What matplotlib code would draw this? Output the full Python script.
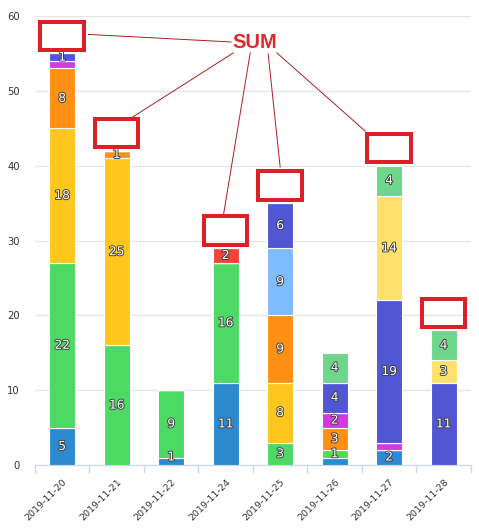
import numpy as np
import matplotlib.pyplot as plt
import matplotlib.patheffects as pe
from matplotlib.patches import Rectangle

dates = ['2019-11-20', '2019-11-21', '2019-11-22', '2019-11-24',
         '2019-11-25', '2019-11-26', '2019-11-27', '2019-11-28']

# stacked series, bottom to top
blue = [5, 0, 1, 11, 0, 1, 2, 0]
green = [22, 16, 9, 16, 3, 1, 0, 0]
yellow = [18, 25, 0, 0, 8, 0, 0, 0]
orange = [8, 1, 0, 0, 9, 3, 0, 0]
magenta = [1, 0, 0, 0, 0, 2, 1, 0]
light_blue = [0, 0, 0, 0, 9, 0, 0, 0]
red = [0, 0, 0, 2, 0, 0, 0, 0]
indigo = [1, 0, 0, 0, 6, 4, 19, 11]
light_yellow = [0, 0, 0, 0, 0, 0, 14, 3]
light_green = [0, 0, 0, 0, 0, 4, 4, 4]

series = [blue, green, yellow, orange, magenta, light_blue, red,
          indigo, light_yellow, light_green]
colors = ['#2d8ad1', '#4cd964', '#ffc61e', '#ff9014', '#d43ad8', '#7ebcff',
          '#f4433a', '#5156d4', '#fee16b', '#6dd68a']

# red boxes drawn over the chart and the "SUM" callout
boxed = [0, 1, 3, 4, 6, 7]
linked = [0, 1, 3, 4, 6]

fig = plt.figure(figsize=(4.79, 5.30), dpi=100)
ax = fig.add_axes([0.073, 0.1226, 0.910, 0.8472])

x = np.arange(len(dates))
bottom = np.zeros(len(dates))
labels = [[] for _ in dates]
for vals, col in zip(series, colors):
    vals = np.array(vals, dtype=float)
    ax.bar(x, vals, 0.48, bottom=bottom, color=col, edgecolor='white',
           linewidth=0.8, zorder=3)
    for i, v in enumerate(vals):
        if v > 0:
            labels[i].append((max(bottom[i] + v / 2, 1.07), v))
    bottom += vals
totals = bottom

# hide overlapping labels: keep bigger values, upper one on ties
for i, labs in enumerate(labels):
    shown = []
    for y, v in sorted(labs, key=lambda t: (-t[1], -t[0])):
        if all(abs(y - s) > 1.7 for s in shown):
            shown.append(y)
            ax.text(x[i], y, f'{int(v)}', ha='center', va='center',
                    color='white', fontsize=8.8, zorder=5,
                    path_effects=[pe.withStroke(linewidth=1.3, foreground='#3a3a3a')])

ax.set_ylim(0, 60)
ax.set_xlim(-0.5, len(dates) - 0.5)
ax.set_yticks(range(0, 61, 10))
ax.yaxis.grid(True, color='#e6e6e6', linewidth=1, zorder=0)
ax.set_axisbelow(True)
for s in ['top', 'right', 'left']:
    ax.spines[s].set_visible(False)
ax.spines['bottom'].set_color('#ccd6eb')
ax.tick_params(axis='y', length=0, pad=11, labelsize=7.2, labelcolor='#333333')
ax.set_xticks(x)
ax.set_xticklabels(dates, rotation=45, ha='right', rotation_mode='anchor')
ax.tick_params(axis='x', which='major', length=0, pad=9, labelsize=6.8,
               labelcolor='#333333')
ax.set_xticks(np.arange(-0.5, len(dates)), minor=True)
ax.tick_params(axis='x', which='minor', length=6, color='#ccd6eb', width=1)

# overlay annotation
box_w, box_h = 0.8, 3.8
boxes = {}
for i in boxed:
    b0 = totals[i] + 0.45
    boxes[i] = (x[i] - box_w / 2, b0)
    ax.add_patch(Rectangle((x[i] - box_w / 2, b0), box_w, box_h, fill=False,
                           edgecolor='#dd2027', linewidth=2.9, zorder=6,
                           clip_on=False))

sum_xy = (3.54, 56.4)
ax.text(*sum_xy, 'SUM', ha='center', va='center', color='#dd2a2a',
        fontsize=14.5, fontweight='bold', family='Liberation Sans', zorder=7)
starts = [(-0.44, 0.13), (-0.40, -1.33), (-0.09, -1.33), (0.24, -1.47), (0.40, -1.33)]
anchors = [(1.1, 0.55), (0.85, 1.05), (0.45, 1.05), (0.5, 1.15), (-0.05, 1.1)]
for i, (dx, dy), (fx, fy) in zip(linked, starts, anchors):
    bx, by = boxes[i]
    ax.plot([sum_xy[0] + dx, bx + fx * box_w], [sum_xy[1] + dy, by + fy * box_h],
            color='#b01c1c', linewidth=0.7, zorder=6, clip_on=False)

fig.savefig('out.png', dpi=100, facecolor='white')
